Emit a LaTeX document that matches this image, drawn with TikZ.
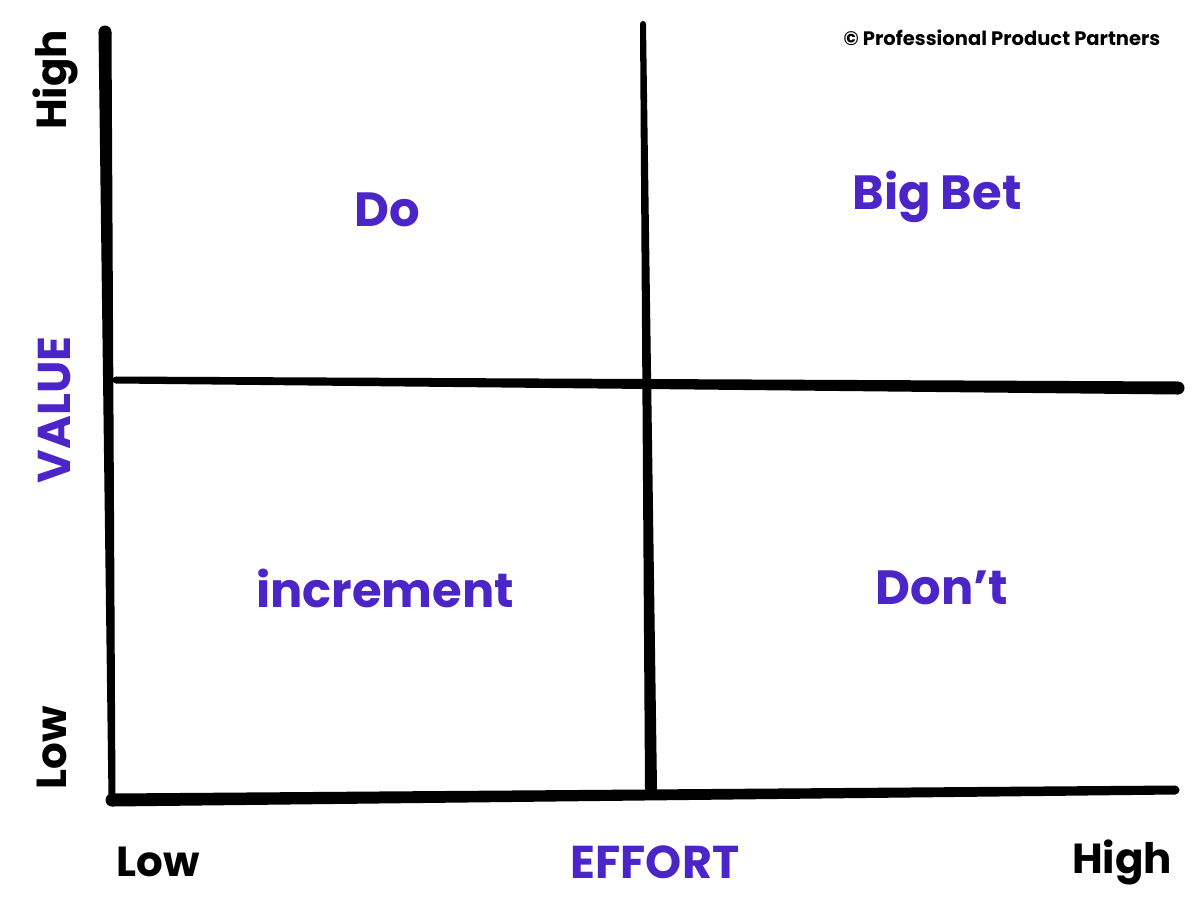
\documentclass[tikz,border=0pt]{standalone}
\usepackage{fontspec}
\setmainfont{Poppins}
\definecolor{quadink}{HTML}{4B25C8}
\tikzset{
  ink/.style={fill=black},
  quadlabel/.style={text=quadink, font=\fontsize{48}{56}\selectfont\bfseries, inner sep=0pt},
  axislabel/.style={text=quadink, font=\fontsize{46}{54}\selectfont\bfseries, inner sep=0pt},
  endlabel/.style={text=black, font=\fontsize{42}{50}\selectfont\bfseries, inner sep=0pt}
}
% hand drawn strokes: x1,y1,w1,x2,y2,w2
\newcommand\vstroke[6]{%
  \fill[ink] (#1-#3/2,#2) -- (#1+#3/2,#2) -- (#4+#6/2,#5) -- (#4-#6/2,#5) -- cycle;
  \fill[ink] (#1,#2) circle (#3/2*1pt);
  \fill[ink] (#4,#5) circle (#6/2*1pt);
}
\newcommand\hstroke[6]{%
  \fill[ink] (#1,#2-#3/2) -- (#1,#2+#3/2) -- (#4,#5+#6/2) -- (#4,#5-#6/2) -- cycle;
  \fill[ink] (#1,#2) circle (#3/2*1pt);
  \fill[ink] (#4,#5) circle (#6/2*1pt);
}
\begin{document}
\begin{tikzpicture}[x=1pt, y=-1pt]
\useasboundingbox (0,0) rectangle (1200,922);

% axes and quadrant lines
\vstroke{105}{32}{13}{112}{798}{7}
\hstroke{112}{800}{13}{1175}{790}{9}
\vstroke{643}{24}{6}{651}{788}{12}
\hstroke{116}{380}{7}{1178}{388}{13}

% quadrant labels
\node (do) [quadlabel] at (387,210) {Do};
\node (bigbet) [quadlabel] at (937,197) {Big Bet};
\node (increment) [quadlabel] at (385,588) {increment};
\node (dont) [quadlabel] at (942,588) {Don't};

% axis labels
\node (effort) [axislabel] at (655,862) {EFFORT};
\node (value) [axislabel, rotate=90] at (55,410) {VALUE};
\node (xlow) [endlabel] at (158,862) {Low};
\node (xhigh) [endlabel] at (1122,862) {High};
\node (ylow) [endlabel, rotate=90] at (52,748) {Low};
\node (yhigh) [endlabel, rotate=90] at (55,80) {High};

% copyright
\node (copy) [font=\fontsize{19.5}{24}\selectfont\bfseries, inner sep=0pt] at (1002,38) {© Professional Product Partners};

\end{tikzpicture}
\end{document}
